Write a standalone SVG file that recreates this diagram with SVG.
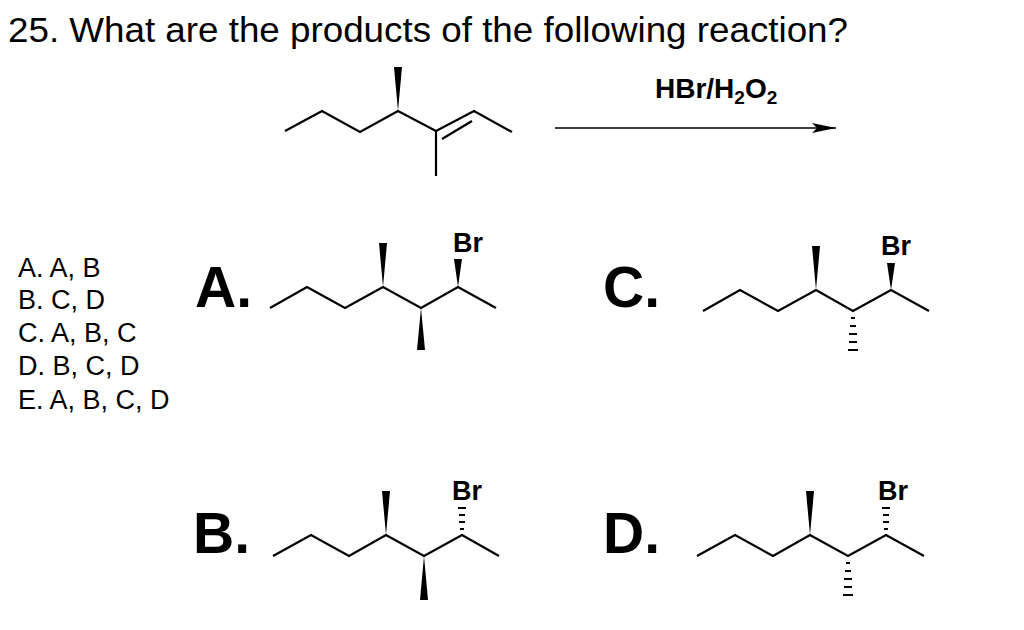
<svg xmlns="http://www.w3.org/2000/svg" width="1024" height="630" viewBox="0 0 1024 630">
<defs>
<style>
.b{fill:none;stroke:#000;stroke-width:2.2;stroke-linejoin:miter}
.w{fill:#000}
.h{stroke:#000;stroke-width:2}
.t{font-family:"Liberation Sans",Arial,sans-serif;fill:#000}
.br{font-family:"Liberation Sans",Arial,sans-serif;font-weight:bold;font-size:27px;text-anchor:middle}
.lab{font-family:"Liberation Sans",Arial,sans-serif;font-weight:bold;font-size:57px}
.ch{font-family:"Liberation Sans",Arial,sans-serif;font-size:27px}
</style>
<marker id="ar" markerWidth="24" markerHeight="10" refX="24" refY="5" orient="auto" markerUnits="userSpaceOnUse"><path d="M0,0 L24,5 L0,10 L5,5 Z" fill="#000"/></marker>
</defs>
<rect width="1024" height="630" fill="#fff"/>
<text class="t" x="8" y="42" font-size="35" textLength="840" lengthAdjust="spacingAndGlyphs">25. What are the products of the following reaction?</text>
<g id="reactant">
<polyline class="b" points="285,131 322,111 360,132 398,111 436,131 474,111 512,132"/>
<line class="b" x1="442" y1="139" x2="472" y2="121"/>
<line class="b" x1="436" y1="131" x2="436" y2="176"/>
<polygon class="w" points="398,111 394,67 402,67"/>
</g>
<g id="connectors">
<line x1="555" y1="128" x2="836" y2="128" stroke="#000" stroke-width="1.5" marker-end="url(#ar)"/>
<text class="t" x="655" y="98" font-size="28" font-weight="bold">HBr/H<tspan font-size="19" dy="6">2</tspan><tspan dy="-6">O</tspan><tspan font-size="19" dy="6">2</tspan></text>
</g>
<g id="choices">
<text class="ch" x="18" y="277">A. A, B</text>
<text class="ch" x="18" y="309">B. C, D</text>
<text class="ch" x="18" y="342">C. A, B, C</text>
<text class="ch" x="18" y="375">D. B, C, D</text>
<text class="ch" x="18" y="409">E. A, B, C, D</text>
</g>
<g id="productA">
<text class="lab" x="195" y="307">A.</text>
<polyline class="b" points="270,308 307,287 345,308 383,287 421,308 458,287 496,308"/>
<polygon class="w" points="383,287 379,243 387,243"/>
<polygon class="w" points="421,308 417,350 425,350"/>
<polygon class="w" points="458,287 454,259 462,259"/>
<text class="br" x="468" y="252">Br</text>
</g>
<g id="productC">
<text class="lab" x="603" y="307">C.</text>
<polyline class="b" points="703,311 740,290 778,311 816,290 853,311 891,290 929,311"/>
<polygon class="w" points="816,290 812,246 820,246"/>
<g class="h"><line x1="851" y1="318" x2="855" y2="318"/><line x1="850" y1="326" x2="856" y2="326"/><line x1="849" y1="334" x2="857" y2="334"/><line x1="849" y1="342" x2="857" y2="342"/><line x1="848" y1="350" x2="858" y2="350"/></g>
<polygon class="w" points="891,290 887,263 895,263"/>
<text class="br" x="896" y="255">Br</text>
</g>
<g id="productB">
<text class="lab" x="193" y="553">B.</text>
<polyline class="b" points="273,556 311,535 349,556 386,535 424,556 462,535 499,556"/>
<polygon class="w" points="386,535 382,491 390,491"/>
<polygon class="w" points="424,556 420,600 428,600"/>
<g class="h"><line x1="460" y1="529" x2="464" y2="529"/><line x1="459" y1="522" x2="465" y2="522"/><line x1="459" y1="515" x2="465" y2="515"/><line x1="458" y1="508" x2="466" y2="508"/></g>
<text class="br" x="467" y="500">Br</text>
</g>
<g id="productD">
<text class="lab" x="603" y="553">D.</text>
<polyline class="b" points="697,556 735,535 773,556 810,535 848,556 886,535 924,556"/>
<polygon class="w" points="810,535 806,491 814,491"/>
<g class="h"><line x1="846" y1="563" x2="850" y2="563"/><line x1="845" y1="571" x2="851" y2="571"/><line x1="844" y1="579" x2="852" y2="579"/><line x1="844" y1="587" x2="852" y2="587"/><line x1="843" y1="595" x2="853" y2="595"/></g>
<g class="h"><line x1="884" y1="529" x2="888" y2="529"/><line x1="883" y1="522" x2="889" y2="522"/><line x1="883" y1="515" x2="889" y2="515"/><line x1="882" y1="508" x2="890" y2="508"/></g>
<text class="br" x="893" y="500">Br</text>
</g>
</svg>
